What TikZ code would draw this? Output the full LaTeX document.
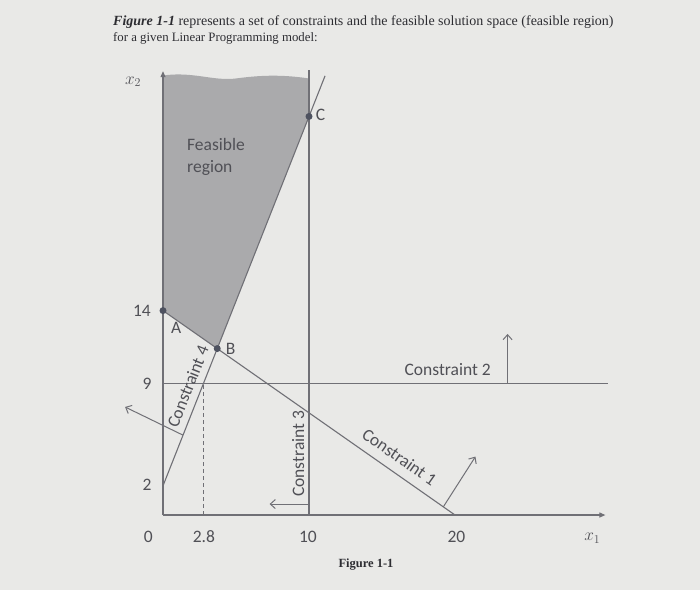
\documentclass[tikz,border=0pt]{standalone}
\usepackage{fontspec}
\setmainfont{Liberation Serif}
\newfontfamily\calibri{Carlito}
\usetikzlibrary{arrows.meta}
\definecolor{paper}{RGB}{233,233,231}
\definecolor{linegray}{RGB}{112,112,118}
\definecolor{regiongray}{RGB}{170,170,172}
\definecolor{labelgray}{RGB}{80,80,86}
\definecolor{dotgray}{RGB}{78,82,96}
\definecolor{headink}{RGB}{45,45,50}

\begin{document}
\begin{tikzpicture}[
                x=1pt, y=-1pt,
                axis/.style={draw=linegray, line width=1.1pt, -{Triangle[length=6pt,width=5pt]}},
                cline/.style={draw=linegray, line width=1.1pt},
                guide/.style={draw=linegray, line width=0.9pt, dash pattern=on 4pt off 3pt},
                dirarrow/.style={draw=linegray, line width=1pt, -{Straight Barb[length=5pt,width=9pt]}},
                lbl/.style={text=labelgray, font=\calibri\fontsize{17.5}{22}\selectfont, inner sep=0pt},
                mathlbl/.style={text=labelgray, font=\fontsize{17}{20}\selectfont, inner sep=0pt},
                head/.style={anchor=west, text=headink, inner sep=0pt},
                vertex/.style={circle, fill=dotgray, inner sep=0pt, minimum size=7pt}
            ]
                \fill[paper] (0,0) rectangle (700,590);
                \useasboundingbox (0,0) rectangle (700,590);

                \node[head, font=\fontsize{14}{16}\selectfont] (headA) at (113,22) {\textbf{\textit{Figure 1-1}} represents a set of constraints and the feasible solution space (feasible region)};
                \node[head, font=\fontsize{12.8}{16}\selectfont] (headB) at (113,38.5) {for a given Linear Programming model:};
                \node[text=headink, font=\fontsize{12.5}{15}\selectfont\bfseries, inner sep=0pt] (caption) at (366,565) {Figure 1-1};

                \begin{scope}[shift={(163pt,-515pt)}, x=14.6pt, y=14.6pt]
                \coordinate (origin) at (0,0);
                \coordinate (xend) at (30.3,0);
                \coordinate (yend) at (0,30.4);
                \coordinate (c1start) at (0,14);
                \coordinate (c1end) at (20,0);
                \coordinate (c2start) at (0,9);
                \coordinate (c2end) at (30.5,9);
                \coordinate (c3start) at (10,0);
                \coordinate (c3end) at (10,30.5);
                \coordinate (c4start) at (0,2);
                \coordinate (c4end) at (11.1,30.08);
                \coordinate (cornerB) at (3.715,11.40);
                \coordinate (cornerC) at (10,27.3);
                \coordinate (foot) at (2.8,0);
                \coordinate (head) at (2.8,9);

                \fill[regiongray] (c1start) -- (cornerB) -- (cornerC) -- (10,29.9)
                    .. controls (8,30.2) and (6.5,30.1) .. (5,29.9)
                    .. controls (3.5,29.7) and (2,30.4) .. (0,30.1) -- cycle;

                \draw[cline] (c1start) -- (c1end);
                \draw[cline] (c2start) -- (c2end);
                \draw[cline] (c3start) -- (c3end);
                \draw[cline] (c4start) -- (c4end);
                \draw[guide] (foot) -- (head);
                \draw[axis] (origin) -- (xend);
                \draw[axis] (origin) -- (yend);

                \coordinate (d1a) at (19.2,0.56);
                \coordinate (d1b) at (21.4,4.0);
                \coordinate (d2a) at (23.6,9);
                \coordinate (d2b) at (23.6,12.4);
                \coordinate (d3a) at (10,0.75);
                \coordinate (d3b) at (7.3,0.75);
                \coordinate (d4a) at (1.37,5.47);
                \coordinate (d4b) at (-2.6,7.4);
                \draw[dirarrow] (d1a) -- (d1b);
                \draw[dirarrow] (d2a) -- (d2b);
                \draw[dirarrow] (d3a) -- (d3b);
                \draw[dirarrow] (d4a) -- (d4b);

                \node[vertex] (ptA) at (c1start) {};
                \node[vertex] (ptB) at (cornerB) {};
                \node[vertex] (ptC) at (cornerC) {};
                \node[lbl] (labA) at (0.9,12.8) {A};
                \node[lbl, anchor=west] (labB) at (4.3,11.4) {B};
                \node[lbl, anchor=west] (labC) at (10.45,27.4) {C};

                \node[lbl, align=left] (region) at (3.63,24.5) {Feasible\\region};
                \node[lbl] (con1) at (16.2,3.97) [rotate=-35] {Constraint 1};
                \node[lbl] (con2) at (19.5,9.93) {Constraint 2};
                \node[lbl] (con3) at (9.25,4.2) [rotate=90] {Constraint 3};
                \node[lbl] (con4) at (1.7,8.8) [rotate=68.4] {Constraint 4};

                \node[lbl] (t0) at (-1,-1.5) {0};
                \node[lbl] (t28) at (2.8,-1.5) {2.8};
                \node[lbl] (t10) at (9.93,-1.5) {10};
                \node[lbl] (t20) at (20.1,-1.5) {20};
                \node[lbl] (t2) at (-1.1,2.05) {2};
                \node[lbl] (t9) at (-1.1,8.97) {9};
                \node[lbl] (t14) at (-1.44,13.97) {14};
                \node[mathlbl] (xone) at (29.4,-1.58) {$x_1$};
                \node[mathlbl] (xtwo) at (-2.05,29.66) {$x_2$};
                \end{scope}
            \end{tikzpicture}
\end{document}
